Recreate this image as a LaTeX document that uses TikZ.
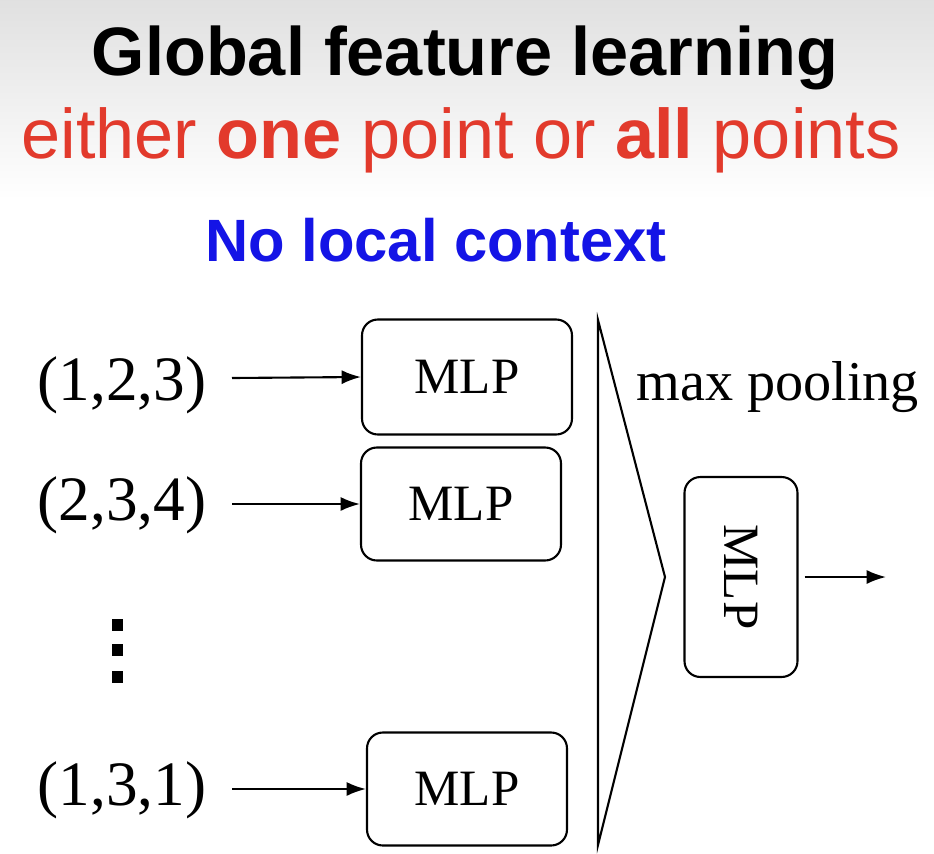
\documentclass[tikz,border=0pt]{standalone}
\usepackage{fontspec}
\usetikzlibrary{arrows.meta}
\setmainfont{Liberation Serif}
\newfontfamily\sansf{Liberation Sans}
\definecolor{tred}{HTML}{E23A2C}
\definecolor{tblue}{HTML}{1414E6}
\begin{document}
\begin{tikzpicture}[x=0.02cm,y=-0.02cm,
  mlp/.style={draw,line width=1.2pt,rounded corners=9pt,inner sep=0pt,font=\fontsize{29}{34}\selectfont},
  lab/.style={font=\fontsize{36}{42}\selectfont,inner sep=0pt},
  arr/.style={line width=1.2pt,-{Latex[length=11pt,width=8pt]}}]
\useasboundingbox (0,0) rectangle (934,853);
\fill[top color=black!12,bottom color=white] (0,0) rectangle (934,200);
\fill[white] (0,200) rectangle (934,853);
\node[font=\sansf\bfseries\fontsize{39}{44}\selectfont] (t1) at (465,58) {Global feature learning};
\node[font=\sansf\fontsize{40}{46}\selectfont,text=tred] (t2) at (461,140) {either \textbf{one} point or \textbf{all} points};
\node[font=\sansf\bfseries\fontsize{34}{40}\selectfont,text=tblue] (t3) at (436,240) {No local context};
\node[mlp,minimum width=4.2cm,minimum height=2.3cm] (m1) at (467,377) {MLP};
\node[mlp,minimum width=4.0cm,minimum height=2.26cm] (m2) at (461,504) {MLP};
\node[mlp,minimum width=4.0cm,minimum height=2.26cm] (m3) at (467,789) {MLP};
\node[lab] (p1) at (122,385) {(1,2,3)};
\node[lab] (p2) at (122,505) {(2,3,4)};
\node[lab] (p3) at (122,790) {(1,3,1)};
\coordinate (a1) at (232,378); \coordinate (a2) at (232,504); \coordinate (a3) at (232,789);
\draw[arr] (a1) -- (m1.west);
\draw[arr] (a2) -- (m2.west);
\draw[arr] (a3) -- (m3.west);
\foreach \yy in {625,650,677} \fill (112,\yy-6) rectangle (123,\yy+6);
\coordinate (ta) at (598,320); \coordinate (tb) at (665,577); \coordinate (tc) at (598,845);
\draw[line width=1.2pt] (ta) -- (tb) -- (tc) -- cycle;
\node[font=\fontsize{32}{38}\selectfont,anchor=west,inner sep=0pt] (mp) at (636,387) {max pooling};
\node[mlp,minimum width=2.26cm,minimum height=4.0cm] (m4) at (741,577) {};
\node[rotate=-90,font=\fontsize{29}{34}\selectfont] at (m4.center) {MLP};
\coordinate (out) at (886,577);
\draw[arr] (m4.east) ++(6,0) -- (out);
\end{tikzpicture}
\end{document}
